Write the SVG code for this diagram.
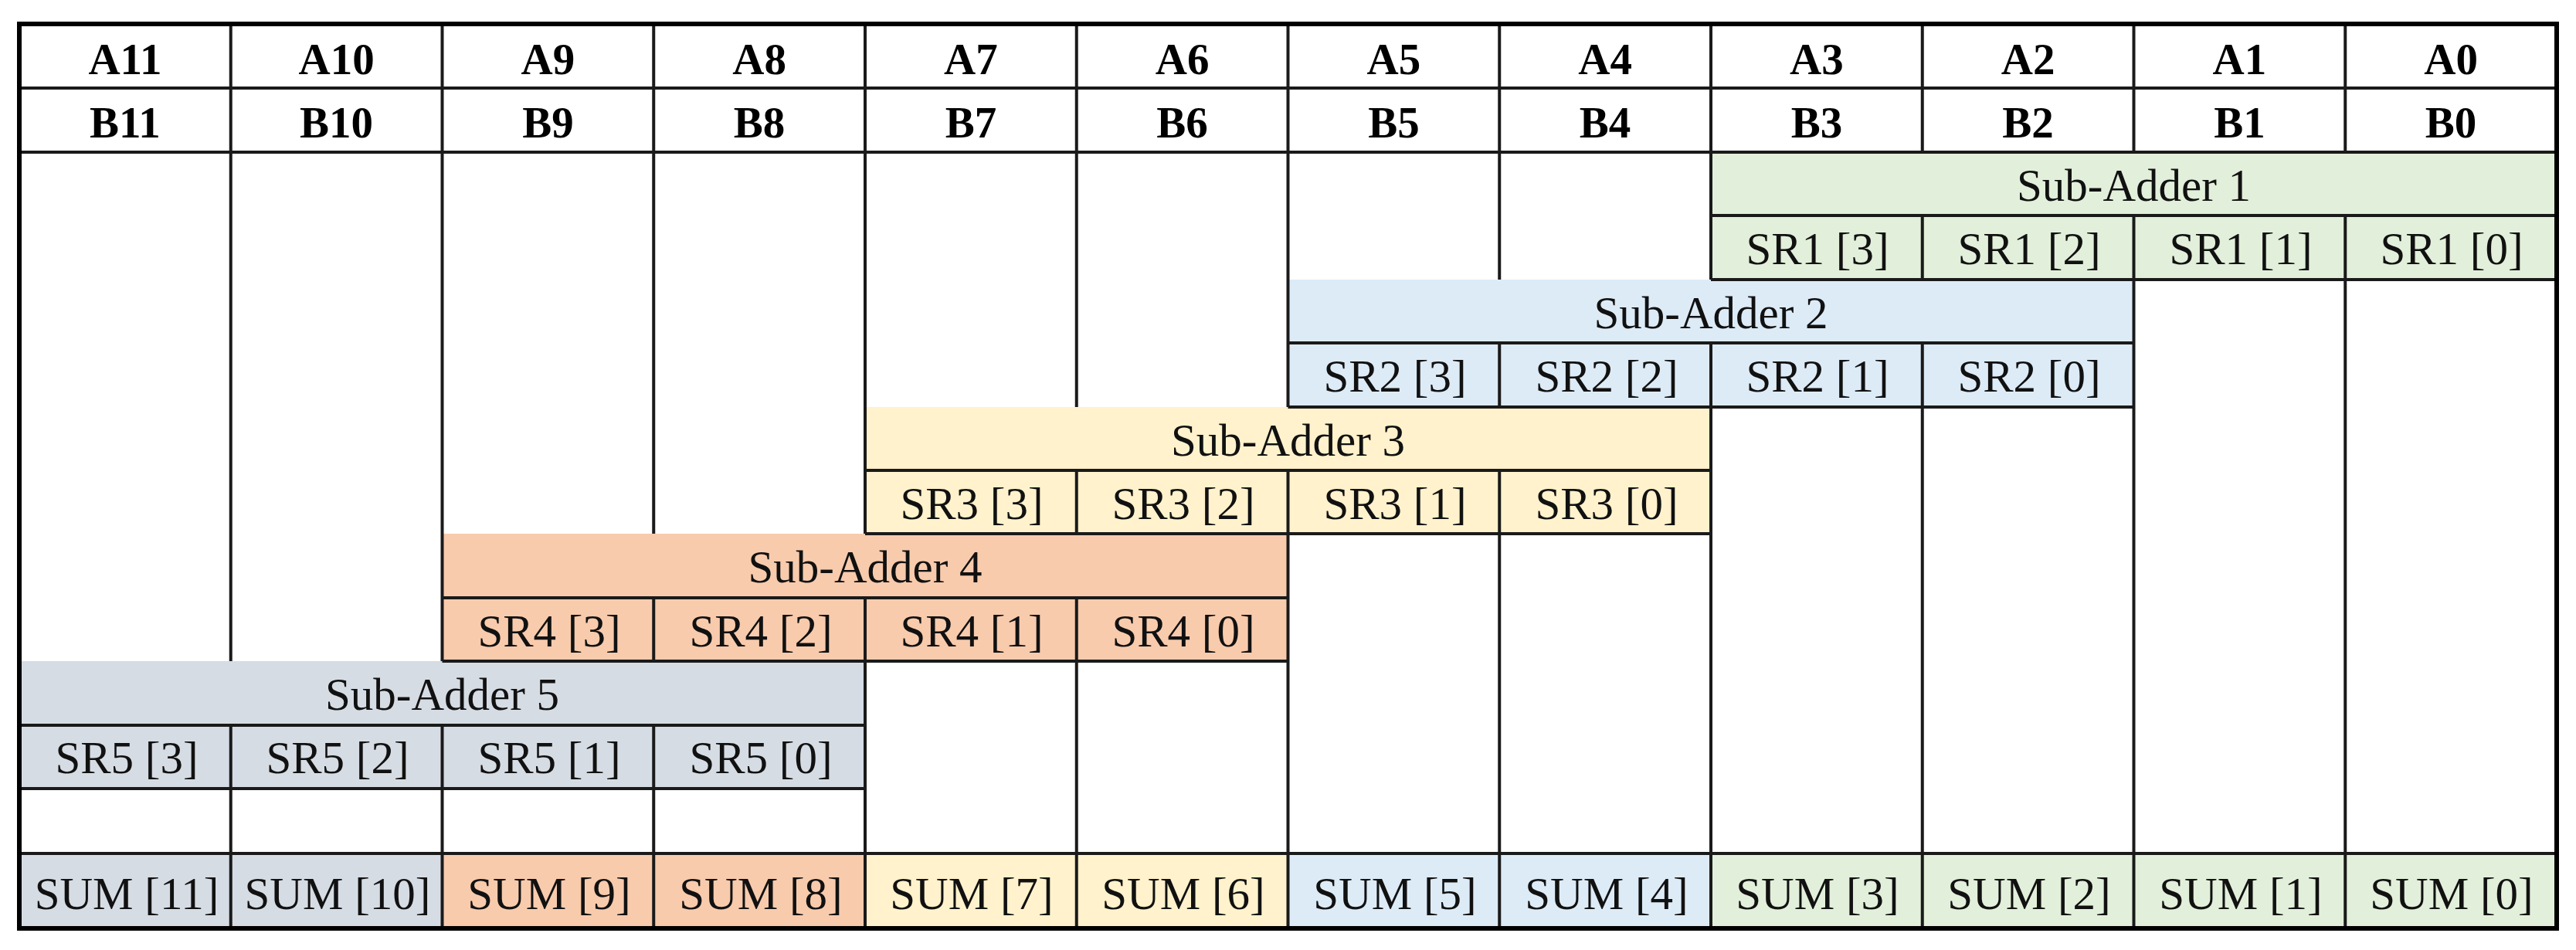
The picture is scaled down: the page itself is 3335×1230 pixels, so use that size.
<svg xmlns="http://www.w3.org/2000/svg" width="3335" height="1230" viewBox="0 0 3335 1230">
<style>
.hd{font-family:"Liberation Serif","Times New Roman",serif;font-weight:bold;font-size:57px;fill:#000;text-anchor:middle}
.tx{font-family:"Liberation Serif","Times New Roman",serif;font-size:59px;fill:#111;text-anchor:middle}
.g1{fill:#E2EFDA}.g2{fill:#DDEBF7}.g3{fill:#FFF2CC}.g4{fill:#F8CBAD}.g5{fill:#D6DCE4}
.ln{stroke:#1a1a1a;stroke-width:4;fill:none}
.ob{stroke:#000;stroke-width:6;fill:none}
</style>
<rect x="0" y="0" width="3335" height="1230" fill="#fff"/>

<g id="header-a">
<text class="hd" x="161.9" y="96">A11</text>
<text class="hd" x="435.6" y="96">A10</text>
<text class="hd" x="709.4" y="96">A9</text>
<text class="hd" x="983.1" y="96">A8</text>
<text class="hd" x="1256.9" y="96">A7</text>
<text class="hd" x="1530.6" y="96">A6</text>
<text class="hd" x="1804.4" y="96">A5</text>
<text class="hd" x="2078.1" y="96">A4</text>
<text class="hd" x="2351.9" y="96">A3</text>
<text class="hd" x="2625.6" y="96">A2</text>
<text class="hd" x="2899.4" y="96">A1</text>
<text class="hd" x="3173.1" y="96">A0</text>
</g>
<g id="header-b">
<text class="hd" x="161.9" y="178">B11</text>
<text class="hd" x="435.6" y="178">B10</text>
<text class="hd" x="709.4" y="178">B9</text>
<text class="hd" x="983.1" y="178">B8</text>
<text class="hd" x="1256.9" y="178">B7</text>
<text class="hd" x="1530.6" y="178">B6</text>
<text class="hd" x="1804.4" y="178">B5</text>
<text class="hd" x="2078.1" y="178">B4</text>
<text class="hd" x="2351.9" y="178">B3</text>
<text class="hd" x="2625.6" y="178">B2</text>
<text class="hd" x="2899.4" y="178">B1</text>
<text class="hd" x="3173.1" y="178">B0</text>
</g>

<g id="sub-adder-1">
<rect class="g1" x="2215" y="197" width="1095" height="165"/>
<text class="tx" x="2762.5" y="260">Sub-Adder 1</text>
<text class="tx" x="2353" y="342">SR1 [3]</text>
<text class="tx" x="2627" y="342">SR1 [2]</text>
<text class="tx" x="2901" y="342">SR1 [1]</text>
<text class="tx" x="3174" y="342">SR1 [0]</text>
</g>
<g id="sub-adder-2">
<rect class="g2" x="1667.5" y="362" width="1095" height="165"/>
<text class="tx" x="2215" y="425">Sub-Adder 2</text>
<text class="tx" x="1806" y="507">SR2 [3]</text>
<text class="tx" x="2080" y="507">SR2 [2]</text>
<text class="tx" x="2353" y="507">SR2 [1]</text>
<text class="tx" x="2627" y="507">SR2 [0]</text>
</g>
<g id="sub-adder-3">
<rect class="g3" x="1120" y="527" width="1095" height="164"/>
<text class="tx" x="1667.5" y="590">Sub-Adder 3</text>
<text class="tx" x="1258" y="672">SR3 [3]</text>
<text class="tx" x="1532" y="672">SR3 [2]</text>
<text class="tx" x="1806" y="672">SR3 [1]</text>
<text class="tx" x="2080" y="672">SR3 [0]</text>
</g>
<g id="sub-adder-4">
<rect class="g4" x="572.5" y="691" width="1095" height="165"/>
<text class="tx" x="1120" y="754">Sub-Adder 4</text>
<text class="tx" x="711" y="837">SR4 [3]</text>
<text class="tx" x="985" y="837">SR4 [2]</text>
<text class="tx" x="1258" y="837">SR4 [1]</text>
<text class="tx" x="1532" y="837">SR4 [0]</text>
</g>
<g id="sub-adder-5">
<rect class="g5" x="25" y="856" width="1095" height="165"/>
<text class="tx" x="572.5" y="919">Sub-Adder 5</text>
<text class="tx" x="164" y="1001">SR5 [3]</text>
<text class="tx" x="437" y="1001">SR5 [2]</text>
<text class="tx" x="711" y="1001">SR5 [1]</text>
<text class="tx" x="985" y="1001">SR5 [0]</text>
</g>

<g id="sum-row">
<rect class="g5" x="25" y="1105" width="547.5" height="97"/>
<rect class="g4" x="572.5" y="1105" width="547.5" height="97"/>
<rect class="g3" x="1120" y="1105" width="547.5" height="97"/>
<rect class="g2" x="1667.5" y="1105" width="547.5" height="97"/>
<rect class="g1" x="2215" y="1105" width="1095" height="97"/>
<text class="tx" x="164" y="1177">SUM [11]</text>
<text class="tx" x="437" y="1177">SUM [10]</text>
<text class="tx" x="711" y="1177">SUM [9]</text>
<text class="tx" x="985" y="1177">SUM [8]</text>
<text class="tx" x="1258" y="1177">SUM [7]</text>
<text class="tx" x="1532" y="1177">SUM [6]</text>
<text class="tx" x="1806" y="1177">SUM [5]</text>
<text class="tx" x="2080" y="1177">SUM [4]</text>
<text class="tx" x="2353" y="1177">SUM [3]</text>
<text class="tx" x="2627" y="1177">SUM [2]</text>
<text class="tx" x="2901" y="1177">SUM [1]</text>
<text class="tx" x="3174" y="1177">SUM [0]</text>
</g>

<g id="grid">
<path class="ln" d="M25 114H3310M25 197H3310M25 1105H3310
M2215 279H3310M2215 362H3310
M1667.5 444H2762.5M1667.5 527H2762.5
M1120 609H2215M1120 691H2215
M572.5 774H1667.5M572.5 856H1667.5
M25 939H1120M25 1021H1120
M298.75 31V856M298.75 939V1202
M572.5 31V856M572.5 939V1202
M846.25 31V691M846.25 774V856M846.25 939V1202
M1120 31V691M1120 774V1202
M1393.75 31V527M1393.75 609V691M1393.75 774V1202
M1667.5 31V527M1667.5 609V1202
M1941.25 31V362M1941.25 444V527M1941.25 609V1202
M2215 31V362M2215 444V1202
M2488.75 31V197M2488.75 279V362M2488.75 444V1202
M2762.5 31V197M2762.5 279V1202
M3036.25 31V197M3036.25 279V1202"/>
<rect class="ob" x="25" y="31" width="3285" height="1171"/>
</g>
</svg>
